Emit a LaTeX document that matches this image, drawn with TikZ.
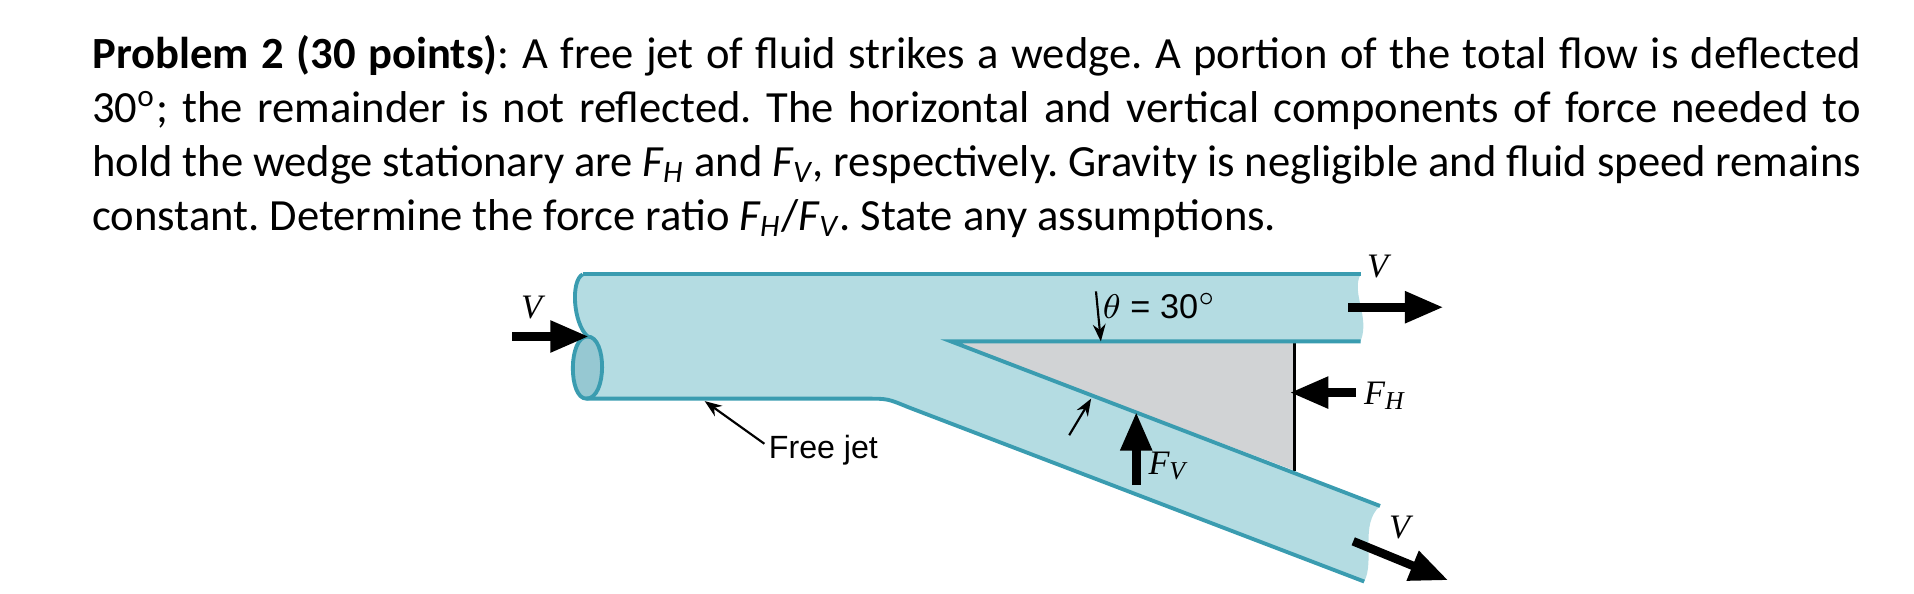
\documentclass[tikz,border=0pt]{standalone}
\usepackage{fontspec}
\setmainfont{Carlito}
\newfontfamily\tms{Liberation Serif}
\newfontfamily\sns{Liberation Sans}
\usetikzlibrary{arrows.meta}
\definecolor{jet}{RGB}{180,220,226}
\definecolor{jetd}{RGB}{150,200,210}
\definecolor{edge}{RGB}{58,156,176}
\definecolor{wedge}{RGB}{209,211,213}
\frenchspacing
\begin{document}
\begin{tikzpicture}[x=0.01cm,y=-0.01cm,
  fat/.style={line width=2pt,-{Triangle[length=9pt,width=7pt]}},
  thin/.style={line width=0.5pt,-{Stealth[length=4pt,width=3pt]}},
  lab/.style={font=\tms\itshape\fontsize{8}{9}\selectfont,inner sep=0pt}]
\useasboundingbox (0,0) rectangle (1570,487);
\node[anchor=north west,text width=14.5cm,align=justify,inner sep=0pt,font=\fontsize{10.4}{12.6}\selectfont] (txt) at (75,28)
{\textbf{Problem 2 (30 points)}: A free jet of fluid strikes a wedge. A portion of the total flow is deflected\linebreak
30\textsuperscript{o}; the remainder is not reflected. The horizontal and vertical components of force needed to\linebreak
hold the wedge stationary are \textit{F\textsubscript{H}} and \textit{F\textsubscript{V}}, respectively. Gravity is negligible and fluid speed remains\linebreak
constant. Determine the force ratio \textit{F\textsubscript{H}}/\textit{F\textsubscript{V}}. State any assumptions.\par};
% jet fill
\fill[jet] (478,225) -- (1116,225) .. controls (1108,240) and (1124,260) .. (1116,280) -- (780,280)
  -- (1132,415) .. controls (1115,430) and (1128,460) .. (1119,477) -- (745,334)
  .. controls (728,327) .. (711,327) -- (481,327)
  .. controls (466,327) and (466,276) .. (482,276)
  .. controls (470,265) and (468,230) .. (478,225) -- cycle;
\fill[jetd] (481,327) .. controls (466,327) and (466,276) .. (482,276) .. controls (498,276) and (498,327) .. (481,327);
\fill[wedge] (780,280) -- (1062,280) -- (1062,386) -- cycle;
\draw[black,line width=0.6pt] (1062,280) -- (1062,386);
\draw[edge,line width=0.9pt] (478,225) -- (1116,225);
\draw[edge,line width=0.9pt] (1116,280) -- (780,280) -- (1132,415);
\draw[edge,line width=0.9pt] (1119,477) -- (745,334) .. controls (728,327) .. (711,327) -- (481,327)
  .. controls (466,327) and (466,276) .. (482,276) .. controls (470,265) and (468,230) .. (478,225);
\draw[edge,line width=0.9pt] (482,276) .. controls (498,276) and (498,327) .. (481,327);
% arrows
\coordinate (a1) at (420,276); \coordinate (a2) at (483,276);
\draw[fat] (a1) -- (a2);
\node[lab] (v1) at (436,252) {V};
\coordinate (b1) at (1106,252); \coordinate (b2) at (1184,252);
\draw[fat] (b1) -- (b2);
\node[lab] (v2) at (1130,219) {V};
\coordinate (c1) at (1112,322); \coordinate (c2) at (1058,322);
\draw[fat] (c1) -- (c2);
\node[lab] (fh) at (1136,325) {F\textsubscript{H}};
\coordinate (d1) at (932,398); \coordinate (d2) at (932,338);
\draw[fat] (d1) -- (d2);
\node[lab] (fv) at (958,382) {F\textsubscript{V}};
\coordinate (e1) at (1110,444); \coordinate (e2) at (1188,476);
\draw[fat] (e1) -- (e2);
\node[lab] (v3) at (1148,433) {V};
\coordinate (t1) at (899,239); \coordinate (t2) at (903,280);
\draw[thin] (t1) -- (t2);
\node[anchor=west,inner sep=0pt,font=\sns\fontsize{8}{9}\selectfont] (th) at (904,251) {$\theta$ = 30$^\circ$};
\coordinate (s1) at (877,357); \coordinate (s2) at (895,327);
\draw[thin] (s1) -- (s2);
\coordinate (f1) at (627,364); \coordinate (f2) at (578,329);
\draw[thin] (f1) -- (f2);
\node[anchor=west,inner sep=0pt,font=\sns\fontsize{7.5}{9}\selectfont] (fj) at (630,369) {Free jet};
\end{tikzpicture}
\end{document}
